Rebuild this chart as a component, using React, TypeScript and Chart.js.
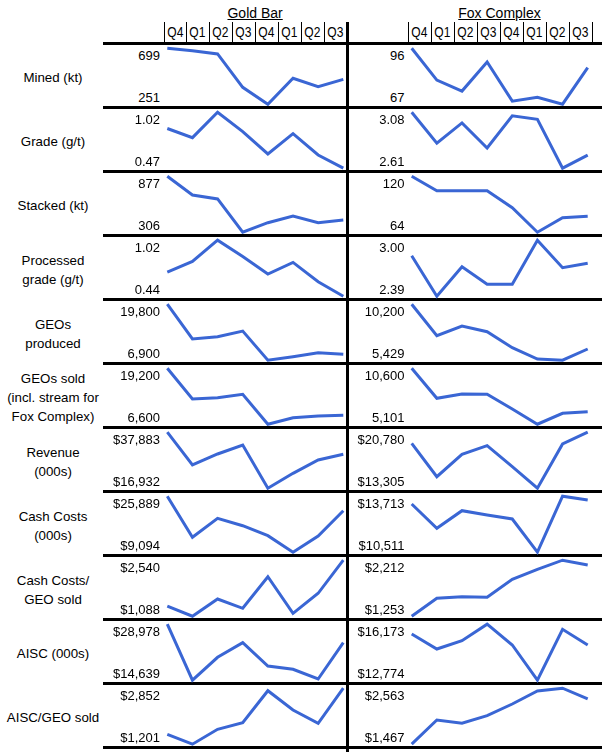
import React, { useEffect, useRef } from 'react';
import { Chart, registerables } from 'chart.js';

Chart.register(...registerables);

// ---------- data ----------
const QUARTERS = ['Q4', 'Q1', 'Q2', 'Q3', 'Q4', 'Q1', 'Q2', 'Q3'];
const MINES = ['Gold Bar', 'Fox Complex'];
const ROW_LABELS = [
  'Mined (kt)',
  'Grade (g/t)',
  'Stacked (kt)',
  'Processed\ngrade (g/t)',
  'GEOs\nproduced',
  'GEOs sold\n(incl. stream for\nFox Complex)',
  'Revenue\n(000s)',
  'Cash Costs\n(000s)',
  'Cash Costs/\nGEO sold',
  'AISC (000s)',
  'AISC/GEO sold',
];

const goldMined = [699, 679, 653, 386, 251, 458, 391, 450];
const foxMined = [96, 79.5, 73.8, 88.9, 68.6, 70.6, 67, 85.9];
const goldGrade = [0.86, 0.77, 1.02, 0.83, 0.61, 0.81, 0.6, 0.47];
const foxGrade = [3.08, 2.82, 2.99, 2.78, 3.05, 3.02, 2.61, 2.72];
const goldStacked = [877, 685, 645, 306, 403, 471, 403, 430];
const foxStacked = [120, 105.5, 105.5, 105.5, 88.5, 64, 78.5, 80];
const goldProcGrade = [0.69, 0.8, 1.02, 0.85, 0.67, 0.79, 0.59, 0.44];
const foxProcGrade = [2.83, 2.39, 2.71, 2.52, 2.52, 3.0, 2.7, 2.75];
const goldGeoProduced = [19800, 11800, 12300, 13600, 6900, 7700, 8600, 8250];
const foxGeoProduced = [10200, 7516, 8343, 7857, 6494, 5531, 5429, 6383];
const goldGeoSold = [19200, 12270, 12560, 13330, 6600, 8060, 8445, 8600];
const foxGeoSold = [10600, 7644, 8067, 8037, 6594, 5101, 6171, 6328];
const goldRevenue = [37883, 25612, 29727, 33094, 16932, 22506, 27482, 29615];
const foxRevenue = [19298, 14840, 17830, 18978, 16175, 13305, 19205, 20780];
const goldCashCosts = [25889, 13563, 19261, 17042, 14042, 9094, 13953, 21540];
const foxCashCosts = [13267, 11878, 12884, 12638, 12409, 10511, 13713, 13496];
const goldCashPerGeo = [1352, 1088, 1534, 1293, 2112, 1163, 1682, 2540];
const foxCashPerGeo = [1253, 1560, 1587, 1577, 1885, 2056, 2212, 2130];
const goldAisc = [28978, 14639, 20503, 24241, 18275, 17430, 14946, 24241];
const foxAisc = [15578, 14668, 15172, 16173, 14911, 12774, 15864, 14911];
const goldAiscPerGeo = [1493, 1201, 1640, 1835, 2778, 2209, 1817, 2852];
const foxAiscPerGeo = [1467, 1941, 1876, 2025, 2254, 2508, 2563, 2352];

const GOLD_MAX_LABELS = ['699', '1.02', '877', '1.02', '19,800', '19,200', '$37,883', '$25,889', '$2,540', '$28,978', '$2,852'];
const GOLD_MIN_LABELS = ['251', '0.47', '306', '0.44', '6,900', '6,600', '$16,932', '$9,094', '$1,088', '$14,639', '$1,201'];
const FOX_MAX_LABELS = ['96', '3.08', '120', '3.00', '10,200', '10,600', '$20,780', '$13,713', '$2,212', '$16,173', '$2,563'];
const FOX_MIN_LABELS = ['67', '2.61', '64', '2.39', '5,429', '5,101', '$13,305', '$10,511', '$1,253', '$12,774', '$1,467'];

const GOLD_SERIES = [goldMined, goldGrade, goldStacked, goldProcGrade, goldGeoProduced, goldGeoSold, goldRevenue, goldCashCosts, goldCashPerGeo, goldAisc, goldAiscPerGeo];
const FOX_SERIES = [foxMined, foxGrade, foxStacked, foxProcGrade, foxGeoProduced, foxGeoSold, foxRevenue, foxCashCosts, foxCashPerGeo, foxAisc, foxAiscPerGeo];

// ---------- layout ----------
const FONT = '"Liberation Sans", Arial, Helvetica, sans-serif';
const LINE_COLOR = '#3a66d4';
const ROW_TOP0 = 43.5;
const ROW_H = 64;
const PLOT_OFF = 4.7;
const PLOT_H = 56;
const PLOT_W = 176;
const PANEL_X = [167.3, 411.7];
const VALUE_RIGHT = [160, 404.5];
const Q_START = [163.5, 407.5];
const Q_W = [22.9, 23];
const CANVAS_PAD = 4;

const parseLabel = (s: string) => parseFloat(s.replace(/[$,]/g, ''));

function geom(r: number, p: number) {
  const x0 = PANEL_X[p];
  const y0 = ROW_TOP0 + r * ROW_H + PLOT_OFF;
  const left = Math.floor(x0) - CANVAS_PAD;
  const top = Math.floor(y0) - CANVAS_PAD;
  const width = PLOT_W + 2 * CANVAS_PAD + 1;
  const height = PLOT_H + 2 * CANVAS_PAD + 1;
  const padL = x0 - left;
  const padT = y0 - top;
  return { left, top, width, height, padL, padT, padR: width - padL - PLOT_W, padB: height - padT - PLOT_H };
}

export default function App() {
  const refs = useRef<(HTMLCanvasElement | null)[]>([]);

  useEffect(() => {
    const charts: Chart[] = [];
    ROW_LABELS.forEach((_, r) => {
      [0, 1].forEach((p) => {
        const canvas = refs.current[r * 2 + p];
        if (!canvas) return;
        const series = p === 0 ? GOLD_SERIES[r] : FOX_SERIES[r];
        const maxL = p === 0 ? GOLD_MAX_LABELS[r] : FOX_MAX_LABELS[r];
        const minL = p === 0 ? GOLD_MIN_LABELS[r] : FOX_MIN_LABELS[r];
        const g = geom(r, p);
        charts.push(
          new Chart(canvas, {
            type: 'line',
            data: {
              labels: QUARTERS,
              datasets: [
                {
                  data: series,
                  borderColor: LINE_COLOR,
                  borderWidth: 3,
                  pointRadius: 0,
                  tension: 0,
                  fill: false,
                  clip: false as any,
                },
              ],
            },
            options: {
              responsive: false,
              animation: false,
              devicePixelRatio: 1,
              events: [],
              layout: { padding: { left: g.padL, right: g.padR, top: g.padT, bottom: g.padB } },
              plugins: { legend: { display: false }, tooltip: { enabled: false } },
              scales: {
                x: { display: false, offset: false },
                y: { display: false, min: parseLabel(minL), max: parseLabel(maxL) },
              },
            },
          })
        );
      });
    });
    return () => charts.forEach((c) => c.destroy());
  }, []);

  const els: React.ReactNode[] = [];

  // mine headers
  MINES.forEach((m, p) => {
    const start = Q_START[p];
    const w = Q_W[p] * 8;
    els.push(
      <div key={'mine' + p} style={{ position: 'absolute', left: start, width: w, top: 4.7, lineHeight: '16px', fontSize: 14, textAlign: 'center', textDecoration: 'underline' }}>
        {m}
      </div>
    );
    QUARTERS.forEach((q, i) => {
      els.push(
        <div key={'q' + p + i} style={{ position: 'absolute', left: start + i * Q_W[p], width: Q_W[p], top: 24.1, lineHeight: '16px', fontSize: 14, textAlign: 'center' }}>
          <span style={{ display: 'inline-block', transform: 'scaleX(0.86)' }}>{q}</span>
        </div>
      );
    });
    const nSep = p === 0 ? 8 : 9;
    for (let i = 0; i < nSep; i++) {
      els.push(
        <div key={'sep' + p + i} style={{ position: 'absolute', left: Math.round(start + i * Q_W[p]), width: 1, top: 22, height: 21, background: '#000' }} />
      );
    }
  });

  // horizontal rules
  for (let k = 0; k <= ROW_LABELS.length; k++) {
    els.push(<div key={'h' + k} style={{ position: 'absolute', left: 103, width: 499, top: ROW_TOP0 + k * ROW_H - 1.5, height: 3, background: '#000' }} />);
  }
  // thick vertical
  els.push(<div key="v" style={{ position: 'absolute', left: 345.5, width: 3, top: 22, height: 730, background: '#000' }} />);

  // row labels and value labels
  ROW_LABELS.forEach((label, r) => {
    const T = ROW_TOP0 + r * ROW_H;
    els.push(
      <div key={'rl' + r} style={{ position: 'absolute', left: 0, width: 106, top: T + 2, height: ROW_H, display: 'flex', alignItems: 'center', justifyContent: 'center', textAlign: 'center', fontSize: 13.3, lineHeight: '19px', whiteSpace: 'pre-line' }}>
        {label}
      </div>
    );
    [0, 1].forEach((p) => {
      const maxL = p === 0 ? GOLD_MAX_LABELS[r] : FOX_MAX_LABELS[r];
      const minL = p === 0 ? GOLD_MIN_LABELS[r] : FOX_MIN_LABELS[r];
      const right = 602 - VALUE_RIGHT[p];
      els.push(
        <div key={'vmax' + r + p} style={{ position: 'absolute', right, top: T + 4.7, fontSize: 13, lineHeight: '15px', textAlign: 'right', whiteSpace: 'nowrap' }}>{maxL}</div>
      );
      els.push(
        <div key={'vmin' + r + p} style={{ position: 'absolute', right, top: T + 46.5, fontSize: 13, lineHeight: '15px', textAlign: 'right', whiteSpace: 'nowrap' }}>{minL}</div>
      );
      const g = geom(r, p);
      els.push(
        <canvas
          key={'c' + r + p}
          ref={(el) => { refs.current[r * 2 + p] = el; }}
          width={g.width}
          height={g.height}
          style={{ position: 'absolute', left: g.left, top: g.top, width: g.width, height: g.height }}
        />
      );
    });
  });

  return (
    <div style={{ position: 'absolute', left: 0, top: 0, width: 602, height: 752, overflow: 'hidden', background: '#fff', fontFamily: FONT, color: '#000' }}>
      {els}
    </div>
  );
}
